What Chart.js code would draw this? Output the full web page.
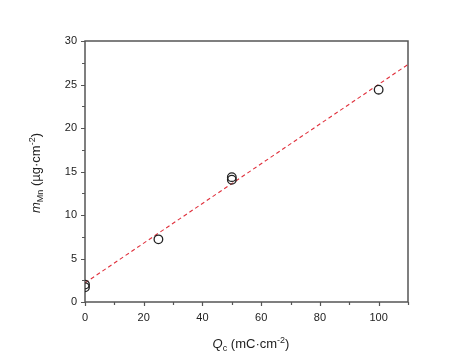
<!DOCTYPE html>
<html>
<head>
<meta charset="utf-8">
<script src="https://cdn.jsdelivr.net/npm/chart.js@4"></script>
<style>
html,body{margin:0;padding:0;background:#fff;}
#wrap{width:474px;height:362px;}
</style>
</head>
<body>
<div id="wrap"><canvas id="c" width="474" height="362"></canvas></div>
<script>
// Data
const chargeQc = [0, 0, 25, 50, 50, 100];          // mC·cm^-2
const massMn   = [1.7, 2.0, 7.2, 14.05, 14.35, 24.4]; // µg·cm^-2
const fitX = [0, 110];
const fitY = [2.2, 27.3];
const xTicks = [0, 20, 40, 60, 80, 100];
const yTicks = [0, 5, 10, 15, 20, 25, 30];

const AXIS = '#555555';
const FONT = '"Liberation Sans", Arial, sans-serif';

const framePlugin = {
  id: 'frame',
  beforeDatasetsDraw(chart) {
    const {ctx, chartArea: a, scales: {x, y}} = chart;
    ctx.save();
    ctx.strokeStyle = AXIS;
    ctx.lineWidth = 1.5;
    ctx.strokeRect(a.left, a.top, a.right - a.left, a.bottom - a.top);
    ctx.lineWidth = 1.2;
    ctx.beginPath();
    for (let v = 0; v <= 110; v += 10) {
      const px = Math.round(x.getPixelForValue(v)) + 0.5;
      const len = (v % 20 === 0) ? 4 : 3;
      ctx.moveTo(px, a.bottom);
      ctx.lineTo(px, a.bottom + len);
    }
    for (let v = 0; v <= 30; v += 2.5) {
      const py = Math.round(y.getPixelForValue(v)) + 0.5;
      const len = (v % 5 === 0) ? 4 : 3;
      ctx.moveTo(a.left, py);
      ctx.lineTo(a.left - len, py);
    }
    ctx.stroke();
    ctx.restore();
  },
  afterDraw(chart) {
    const {ctx, chartArea: a} = chart;
    ctx.save();
    ctx.fillStyle = '#222';
    ctx.textBaseline = 'alphabetic';
    // X title: Q_c (mC·cm^-2)
    const parts = [
      {t: 'Q', f: 'italic 13px ' + FONT, dy: 0},
      {t: 'c', f: '9px ' + FONT, dy: 3},
      {t: ' (mC·cm', f: '13px ' + FONT, dy: 0},
      {t: '-2', f: '9px ' + FONT, dy: -5},
      {t: ')', f: '13px ' + FONT, dy: 0}
    ];
    const drawParts = (cx, cy) => {
      let w = 0;
      parts.forEach(p => { ctx.font = p.f; w += ctx.measureText(p.t).width; });
      let xx = cx - w / 2;
      parts.forEach(p => { ctx.font = p.f; ctx.fillText(p.t, xx, cy + p.dy); xx += ctx.measureText(p.t).width; });
    };
    drawParts(251, 348);
    // Y title: m_Mn (µg·cm^-2)
    const yparts = [
      {t: 'm', f: 'italic 13px ' + FONT, dy: 0},
      {t: 'Mn', f: '9px ' + FONT, dy: 3},
      {t: ' (µg·cm', f: '13px ' + FONT, dy: 0},
      {t: '-2', f: '9px ' + FONT, dy: -5},
      {t: ')', f: '13px ' + FONT, dy: 0}
    ];
    ctx.translate(40, 173);
    ctx.rotate(-Math.PI / 2);
    let w = 0;
    yparts.forEach(p => { ctx.font = p.f; w += ctx.measureText(p.t).width; });
    let xx = -w / 2;
    yparts.forEach(p => { ctx.font = p.f; ctx.fillText(p.t, xx, p.dy); xx += ctx.measureText(p.t).width; });
    ctx.restore();
  }
};

new Chart(document.getElementById('c'), {
  type: 'scatter',
  data: {
    datasets: [
      {
        label: 'data',
        data: chargeQc.map((v, i) => ({x: v, y: massMn[i]})),
        showLine: false,
        pointStyle: 'circle',
        pointRadius: 4.3,
        pointBorderWidth: 1.3,
        pointBorderColor: '#222',
        pointBackgroundColor: 'rgba(255,255,255,0)',
        order: 0
      },
      {
        label: 'fit',
        data: fitX.map((v, i) => ({x: v, y: fitY[i]})),
        showLine: true,
        borderColor: '#e0303c',
        borderWidth: 1.1,
        borderDash: [4, 3],
        pointRadius: 0,
        order: 1
      }
    ]
  },
  options: {
    responsive: false,
    animation: false,
    events: [],
    layout: {padding: {top: 41, right: 66, left: 0, bottom: 0}},
    plugins: {legend: {display: false}, tooltip: {enabled: false}},
    scales: {
      x: {
        type: 'linear', min: 0, max: 110,
        afterFit(s) { s.height = 60; },
        afterBuildTicks(s) { s.ticks = xTicks.map(v => ({value: v})); },
        grid: {display: false, drawTicks: false},
        border: {display: false},
        ticks: {color: '#222', font: {family: FONT, size: 11}, padding: 9, maxRotation: 0}
      },
      y: {
        type: 'linear', min: 0, max: 30,
        afterFit(s) { s.width = 85; },
        afterBuildTicks(s) { s.ticks = yTicks.map(v => ({value: v})); },
        grid: {display: false, drawTicks: false},
        border: {display: false},
        ticks: {color: '#222', font: {family: FONT, size: 11}, padding: 8}
      }
    }
  },
  plugins: [framePlugin]
});
</script>
</body>
</html>
